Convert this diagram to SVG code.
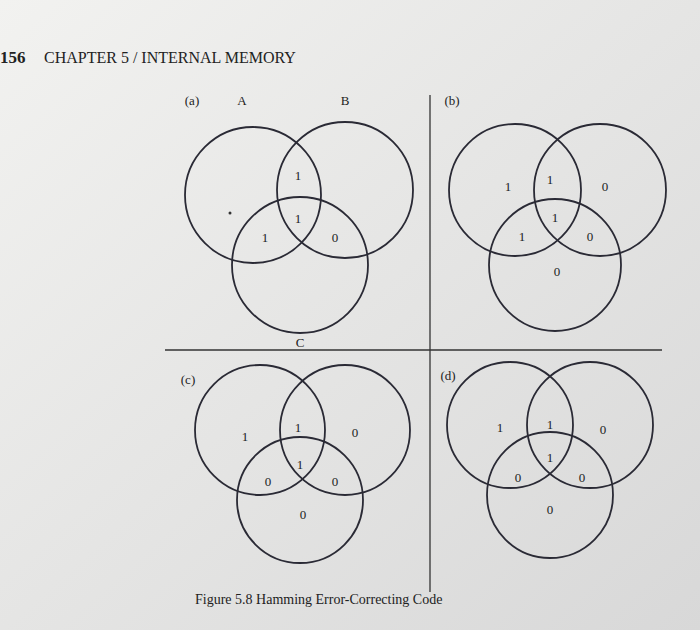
<svg xmlns="http://www.w3.org/2000/svg" width="700" height="630" viewBox="0 0 700 630">
<defs><linearGradient id="bg" x1="0" y1="0" x2="1" y2="1"><stop offset="0" stop-color="#f2f2f0"/><stop offset="1" stop-color="#d8d8d8"/></linearGradient></defs>
<style>
.c{fill:none;stroke:#2a2a35;stroke-width:1.8}
.t{font-family:"Liberation Serif",serif;font-size:13px;fill:#222;text-anchor:middle}
.h{font-family:"Liberation Serif",serif;fill:#222}
.l{stroke:#333;stroke-width:1.3}
</style>
<rect width="700" height="630" fill="url(#bg)"/>
<text class="h" x="0" y="63" font-size="17" font-weight="bold">156</text>
<text class="h" x="44" y="63" font-size="16">CHAPTER 5 / INTERNAL MEMORY</text>
<line class="l" x1="430" y1="95" x2="430" y2="592"/>
<line class="l" x1="165" y1="350" x2="662" y2="350"/>
<g id="a">
<circle class="c" cx="253" cy="195" r="68"/><circle class="c" cx="345" cy="190" r="68"/><circle class="c" cx="300" cy="265" r="68"/>
<text class="t" x="192" y="105">(a)</text><text class="t" x="242" y="105">A</text><text class="t" x="345" y="105">B</text><text class="t" x="300" y="347">C</text>
<text class="t" x="298" y="180">1</text><text class="t" x="298" y="223">1</text><text class="t" x="265" y="242">1</text><text class="t" x="335" y="242">0</text>
<circle cx="230" cy="213" r="1.5" fill="#333"/>
</g>
<g id="b">
<circle class="c" cx="515" cy="190" r="66"/><circle class="c" cx="600" cy="190" r="66"/><circle class="c" cx="555" cy="265" r="66"/>
<text class="t" x="452" y="105">(b)</text>
<text class="t" x="508" y="191">1</text><text class="t" x="550" y="184">1</text><text class="t" x="605" y="191">0</text><text class="t" x="555" y="222">1</text><text class="t" x="522" y="241">1</text><text class="t" x="590" y="241">0</text><text class="t" x="557" y="276">0</text>
</g>
<g id="c">
<circle class="c" cx="260" cy="430" r="65"/><circle class="c" cx="345" cy="430" r="65"/><circle class="c" cx="300" cy="500" r="63"/>
<text class="t" x="188" y="384">(c)</text>
<text class="t" x="245" y="441">1</text><text class="t" x="298" y="432">1</text><text class="t" x="355" y="437">0</text><text class="t" x="300" y="469">1</text><text class="t" x="268" y="486">0</text><text class="t" x="335" y="486">0</text><text class="t" x="303" y="519">0</text>
</g>
<g id="d">
<circle class="c" cx="510" cy="425" r="63"/><circle class="c" cx="590" cy="425" r="63"/><circle class="c" cx="550" cy="495" r="63"/>
<text class="t" x="448" y="380">(d)</text>
<text class="t" x="500" y="432">1</text><text class="t" x="550" y="429">1</text><text class="t" x="603" y="434">0</text><text class="t" x="550" y="462">1</text><text class="t" x="518" y="482">0</text><text class="t" x="582" y="482">0</text><text class="t" x="550" y="514">0</text>
</g>
<text class="h" x="195" y="604" font-size="14">Figure 5.8   Hamming Error-Correcting Code</text>
</svg>
